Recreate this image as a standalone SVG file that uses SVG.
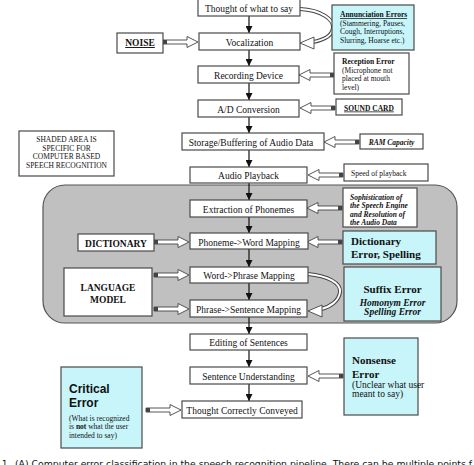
<svg xmlns="http://www.w3.org/2000/svg" width="474" height="465" viewBox="0 0 474 465">
<defs>
<style>
.box{fill:#fff;stroke:#4a4a4a;stroke-width:1.2}
.cyan{fill:#c8f5f9;stroke:#4a4a4a;stroke-width:1.2}
.t{font-family:"Liberation Serif","Times New Roman",serif;font-size:9.5px;fill:#111}
.m{text-anchor:middle}
.s{font-size:7.5px}
.big{font-size:11px;font-weight:bold}
.b{font-weight:bold}
.i{font-style:italic}
.u{text-decoration:underline}
.sans{font-family:"Liberation Sans",Arial,sans-serif}
.flow{stroke:#111;stroke-width:1.2;fill:none}
.cv1{stroke:#444;stroke-width:4;fill:none}
.cv2{stroke:#fff;stroke-width:2;fill:none}
.hh{fill:#fff;stroke:#444;stroke-width:0.9}
</style>
<marker id="ah" viewBox="0 0 10 10" refX="10" refY="5" markerWidth="7" markerHeight="7" orient="auto" markerUnits="userSpaceOnUse"><path d="M0,0 L10,5 L0,10 Z" fill="#111"/></marker>
<g id="ha"><path d="M0,-2 H24 V-5.5 L35,0 L24,5.5 V2 H0 Z" class="hh"/><rect x="0" y="-2" width="4" height="4" fill="#444"/></g>
</defs>
<rect width="474" height="465" fill="#fff"/>

<g id="shaded-area"><rect x="43" y="185" width="414" height="138" rx="22" ry="22" fill="#c0c0c0" stroke="#555" stroke-width="1.2"/></g>

<g id="connectors">
<line class="flow" x1="249" y1="16" x2="249" y2="33" marker-end="url(#ah)"/>
<line class="flow" x1="249" y1="50" x2="249" y2="66" marker-end="url(#ah)"/>
<line class="flow" x1="249" y1="83" x2="249" y2="100" marker-end="url(#ah)"/>
<line class="flow" x1="249" y1="117" x2="249" y2="133" marker-end="url(#ah)"/>
<line class="flow" x1="249" y1="150" x2="249" y2="167" marker-end="url(#ah)"/>
<line class="flow" x1="249" y1="183" x2="249" y2="200" marker-end="url(#ah)"/>
<line class="flow" x1="249" y1="217" x2="249" y2="233" marker-end="url(#ah)"/>
<line class="flow" x1="249" y1="249" x2="249" y2="267" marker-end="url(#ah)"/>
<line class="flow" x1="249" y1="283" x2="249" y2="300" marker-end="url(#ah)"/>
<line class="flow" x1="249" y1="317" x2="249" y2="334" marker-end="url(#ah)"/>
<line class="flow" x1="249" y1="350" x2="249" y2="367" marker-end="url(#ah)"/>
<line class="flow" x1="249" y1="384" x2="249" y2="401" marker-end="url(#ah)"/>

<use href="#ha" transform="translate(163,42)"/>
<use href="#ha" transform="translate(154,242)"/>
<use href="#ha" transform="translate(154,275)"/>
<use href="#ha" transform="translate(154,309)"/>
<use href="#ha" transform="translate(146,410)"/>
<use href="#ha" transform="translate(334,75) scale(-1,1)"/>
<use href="#ha" transform="translate(335,108) scale(-1,1)"/>
<use href="#ha" transform="translate(359,142) scale(-1,1)"/>
<use href="#ha" transform="translate(343,175) scale(-1,1)"/>
<use href="#ha" transform="translate(342,208) scale(-1,1)"/>
<use href="#ha" transform="translate(342,242) scale(-1,1)"/>
<use href="#ha" transform="translate(343,376) scale(-1,1)"/>

<path class="cv1" d="M300,9 C322,10 334,20 333,28 C332,36 324,40 313,42"/>
<path class="cv2" d="M300,9 C322,10 334,20 333,28 C332,36 324,40 313,42"/>
<path class="hh" d="M300,43 L314,37 L314,49 Z"/>
<path class="cv1" d="M308,274 C328,276 341,283 340,292 C339,301 330,307 321,309"/>
<path class="cv2" d="M308,274 C328,276 341,283 340,292 C339,301 330,307 321,309"/>
<path class="hh" d="M308,311 L322,305 L322,317 Z"/>
</g>

<g id="n-thought"><rect class="box" x="198" y="-2" width="102" height="18"/><text class="t m" x="249" y="12">Thought of what to say</text></g>
<g id="n-vocal"><rect class="box" x="199" y="33" width="101" height="17"/><text class="t m" x="249.5" y="45.5">Vocalization</text></g>
<g id="n-recording"><rect class="box" x="198" y="66" width="101" height="17"/><text class="t m" x="248.5" y="79">Recording Device</text></g>
<g id="n-ad"><rect class="box" x="198" y="100" width="101" height="17"/><text class="t m" x="248.5" y="113">A/D Conversion</text></g>
<g id="n-storage"><rect class="box" x="182" y="133" width="142" height="17"/><text class="t m" x="251" y="146">Storage/Buffering of Audio Data</text></g>
<g id="n-audio"><rect class="box" x="190" y="167" width="117" height="16"/><text class="t m" x="248.5" y="179">Audio Playback</text></g>
<g id="n-extraction"><rect class="box" x="190" y="200" width="117" height="17"/><text class="t m" x="248.5" y="212.5">Extraction of Phonemes</text></g>
<g id="n-phword"><rect class="box" x="190" y="233" width="118" height="16"/><text class="t m" x="249" y="245.5">Phoneme-&gt;Word Mapping</text></g>
<g id="n-wordphrase"><rect class="box" x="190" y="267" width="118" height="16"/><text class="t m" x="249" y="279">Word-&gt;Phrase Mapping</text></g>
<g id="n-phrasesent"><rect class="box" x="190" y="300" width="117" height="17"/><text class="t m" x="248.5" y="312.5">Phrase-&gt;Sentence Mapping</text></g>
<g id="n-editing"><rect class="box" x="190" y="334" width="117" height="16"/><text class="t m" x="248.5" y="345.5">Editing of Sentences</text></g>
<g id="n-understanding"><rect class="box" x="190" y="367" width="117" height="17"/><text class="t m" x="248.5" y="379.5">Sentence Understanding</text></g>
<g id="n-conveyed"><rect class="box" x="182" y="401" width="120" height="17"/><text class="t m" x="242" y="413.5">Thought Correctly Conveyed</text></g>

<g id="n-noise"><rect class="box" x="117" y="33" width="46" height="20"/><text class="t m b u" x="140" y="46">NOISE</text></g>
<g id="n-shaded-note"><rect class="box" x="19" y="131" width="95" height="45"/>
<text class="t m s" x="66.5" y="142">SHADED AREA IS</text>
<text class="t m s" x="66.5" y="150.5">SPECIFIC FOR</text>
<text class="t m s" x="66.5" y="159">COMPUTER BASED</text>
<text class="t m s" x="66.5" y="167.5">SPEECH RECOGNITION</text></g>
<g id="n-dictionary"><rect class="box" x="78" y="234" width="76" height="17"/><text class="t m b" x="116" y="246.5">DICTIONARY</text></g>
<g id="n-lm"><rect class="box" x="64" y="268" width="88" height="48"/><text class="t m b" x="108" y="291">LANGUAGE</text><text class="t m b" x="108" y="303">MODEL</text></g>
<g id="n-critical"><rect class="cyan" x="61" y="367" width="81" height="81"/>
<text class="sans b" x="69" y="393" font-size="12" fill="#111">Critical</text>
<text class="sans b" x="69" y="407" font-size="12" fill="#111">Error</text>
<text class="t s" x="69" y="420.5">(What is recognized</text>
<text class="t s" x="69" y="429">is <tspan class="b">not</tspan> what the user</text>
<text class="t s" x="69" y="437.5">intended to say)</text></g>

<g id="n-annunciation"><rect class="cyan" x="332" y="5" width="82" height="45"/>
<text class="t s b u" x="340" y="17">Annunciation Errors</text>
<text class="t s" x="340" y="25.5">(Stammering, Pauses,</text>
<text class="t s" x="340" y="34">Cough, Interruptions,</text>
<text class="t s" x="340" y="42.5">Slurring, Hoarse etc.)</text></g>
<g id="n-reception"><rect class="box" x="334" y="53" width="75" height="41"/>
<text class="t s b" x="342" y="64">Reception Error</text>
<text class="t s" x="342" y="72.5">(Microphone not</text>
<text class="t s" x="342" y="81">placed at mouth</text>
<text class="t s" x="342" y="89.5">level)</text></g>
<g id="n-soundcard"><rect class="box" x="336" y="99" width="66" height="16"/><text class="t s m b u" x="369" y="110.5">SOUND CARD</text></g>
<g id="n-ram"><rect class="box" x="360" y="134" width="63" height="15"/><text class="t s m b i" x="391.5" y="144.5">RAM Capacity</text></g>
<g id="n-speed"><rect class="box" x="344" y="164" width="84" height="17"/><text class="t s" x="351" y="175.5">Speed of playback</text></g>
<g id="n-sophistication"><rect class="box" x="343" y="188" width="74" height="39"/>
<text class="t s b i" x="350" y="199.5">Sophistication of</text>
<text class="t s b i" x="350" y="208">the Speech Engine</text>
<text class="t s b i" x="350" y="216.5">and Resolution of</text>
<text class="t s b i" x="350" y="225">the Audio Data</text></g>
<g id="n-dicterror"><rect class="cyan" x="343" y="231" width="93" height="33"/>
<text class="t big" x="351" y="244.5">Dictionary</text>
<text class="t big" x="351" y="258">Error, Spelling</text></g>
<g id="n-suffix"><rect class="cyan" x="344" y="267" width="97" height="54"/>
<text class="t big m" x="392.5" y="293">Suffix Error</text>
<text class="t m b i" x="392.5" y="306" font-size="6.5">Homonym Error</text>
<text class="t m b i" x="392.5" y="314.5" font-size="6.5">Spelling Error</text></g>
<g id="n-nonsense"><rect class="cyan" x="344" y="338" width="74" height="77"/>
<text class="t big" x="352" y="363.5">Nonsense</text>
<text class="t big" x="352" y="377.5">Error</text>
<text class="t" x="352" y="387.5" font-size="7">(Unclear what user</text>
<text class="t" x="352" y="396.5" font-size="7">meant to say)</text></g>

<g id="caption"><text x="2" y="467" font-family="DejaVu Sans, sans-serif" font-size="8.5" fill="#111">1</text><text x="15" y="467" font-family="DejaVu Sans, sans-serif" font-size="8.5" fill="#111" textLength="457" lengthAdjust="spacingAndGlyphs">(A) Computer error classification in the speech recognition pipeline. There can be multiple points f</text></g>
</svg>
